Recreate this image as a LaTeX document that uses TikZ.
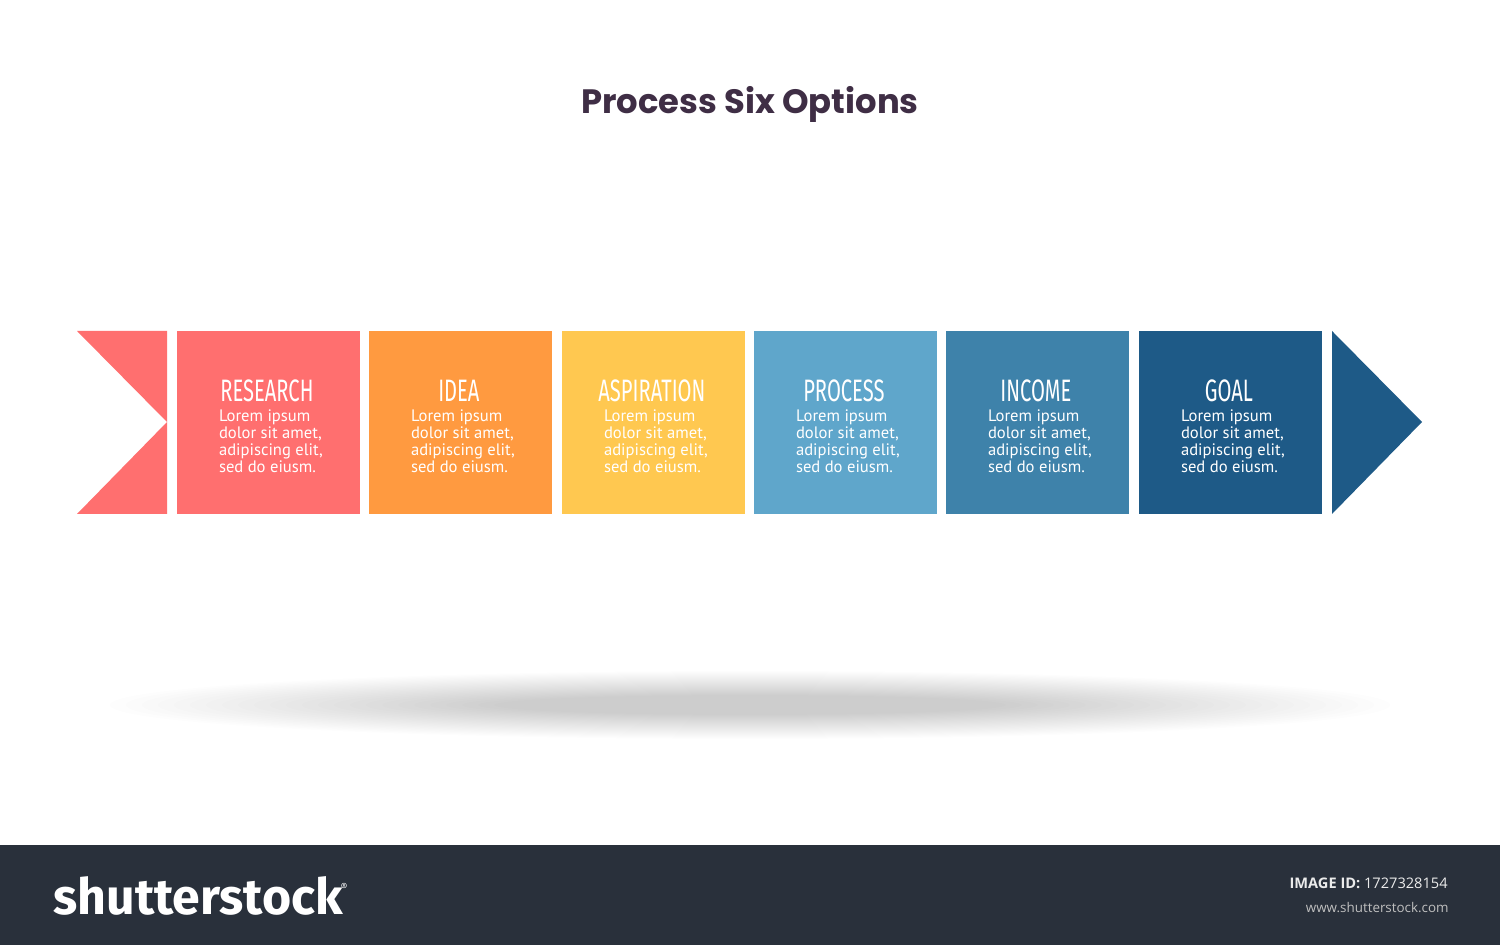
\documentclass[tikz,border=0pt]{standalone}
\usepackage{fontspec}
\setmainfont{PT Sans}
\newfontfamily\titlefont{Poppins}
\newfontfamily\condfont[FakeStretch=0.65]{Fira Sans}
\newfontfamily\logofont{Fira Sans}
\newfontfamily\idfont{Open Sans}
\definecolor{cRes}{HTML}{FF6F6F}
\definecolor{cIdea}{HTML}{FF9A40}
\definecolor{cAsp}{HTML}{FFC850}
\definecolor{cProc}{HTML}{5FA6CB}
\definecolor{cInc}{HTML}{3E82AA}
\definecolor{cGoal}{HTML}{1E5A87}
\definecolor{cTitle}{HTML}{3F2E45}
\definecolor{cBar}{HTML}{29303B}
\tikzset{
  stepbox/.style={minimum width=91.5pt, minimum height=91.5pt, inner sep=0pt, anchor=north west, draw=none},
  boxhead/.style={text=white, inner sep=0pt, font=\condfont\fontsize{15.5pt}{16pt}\selectfont},
  boxbody/.style={text=white, inner sep=0pt, anchor=north, align=left, font=\fontsize{8.3pt}{8.5pt}\selectfont},
}
\begin{document}
\begin{tikzpicture}[x=0.5pt,y=-0.5pt]
\useasboundingbox (0,0) rectangle (1500,945);
\fill[white] (0,0) rectangle (1500,945);
% shadow
\foreach \i in {0,...,24}{
  \fill[black,opacity=0.008] (750,705) ellipse ({320pt-\i*8pt} and {17pt-\i*0.5pt});
}
% title
\node[text=cTitle, font=\titlefont\bfseries\fontsize{16.9pt}{18pt}\selectfont, inner sep=0pt] (title) at (750,104) {Process Six Options};
% left notched tail
\fill[cRes] (77,331) -- (167,331) -- (167,422) -- cycle;
\fill[cRes] (77,514) -- (167,514) -- (167,422) -- cycle;
\coordinate (tail) at (122,422);
% boxes
\foreach \x/\n/\t/\c in {177/research/RESEARCH/cRes, 369/idea/IDEA/cIdea, 562/aspiration/ASPIRATION/cAsp, 754/process/PROCESS/cProc, 946/income/INCOME/cInc, 1139/goal/GOAL/cGoal}{
  \node[stepbox, fill=\c] (\n) at (\x,331) {};
  \node[boxhead] (\n-head) at ([xshift=-1pt,yshift=-30pt]\n.north) {\t};
  \node[boxbody] (\n-body) at ([xshift=1pt,yshift=-39pt]\n.north) {Lorem ipsum\\dolor sit amet,\\adipiscing elit,\\sed do eiusm.};
}
% right arrow head
\fill[cGoal] (1332,331) -- (1422,422) -- (1332,514) -- cycle;
\coordinate (head) at (1370,422);
% bottom bar
\fill[cBar] (0,845) rectangle (1500,945);
\node[text=white, anchor=base west, inner sep=0pt, font=\logofont\bfseries\fontsize{25pt}{27pt}\selectfont] (logo) at (53,915) {shutterstock};
\node[text=white, anchor=center, inner sep=0pt, font=\fontsize{5pt}{5pt}\selectfont] (reg) at (344,887) {\textregistered};
\node[text=white!92!black, anchor=base east, inner sep=0pt, font=\idfont\fontsize{7.3pt}{8pt}\selectfont] (imgid) at (1448,889) {\textbf{IMAGE ID:} 1727328154};
\node[text=white!75!black, anchor=base east, inner sep=0pt, font=\idfont\fontsize{6.7pt}{8pt}\selectfont] (url) at (1449,913) {www.shutterstock.com};
\end{tikzpicture}
\end{document}
